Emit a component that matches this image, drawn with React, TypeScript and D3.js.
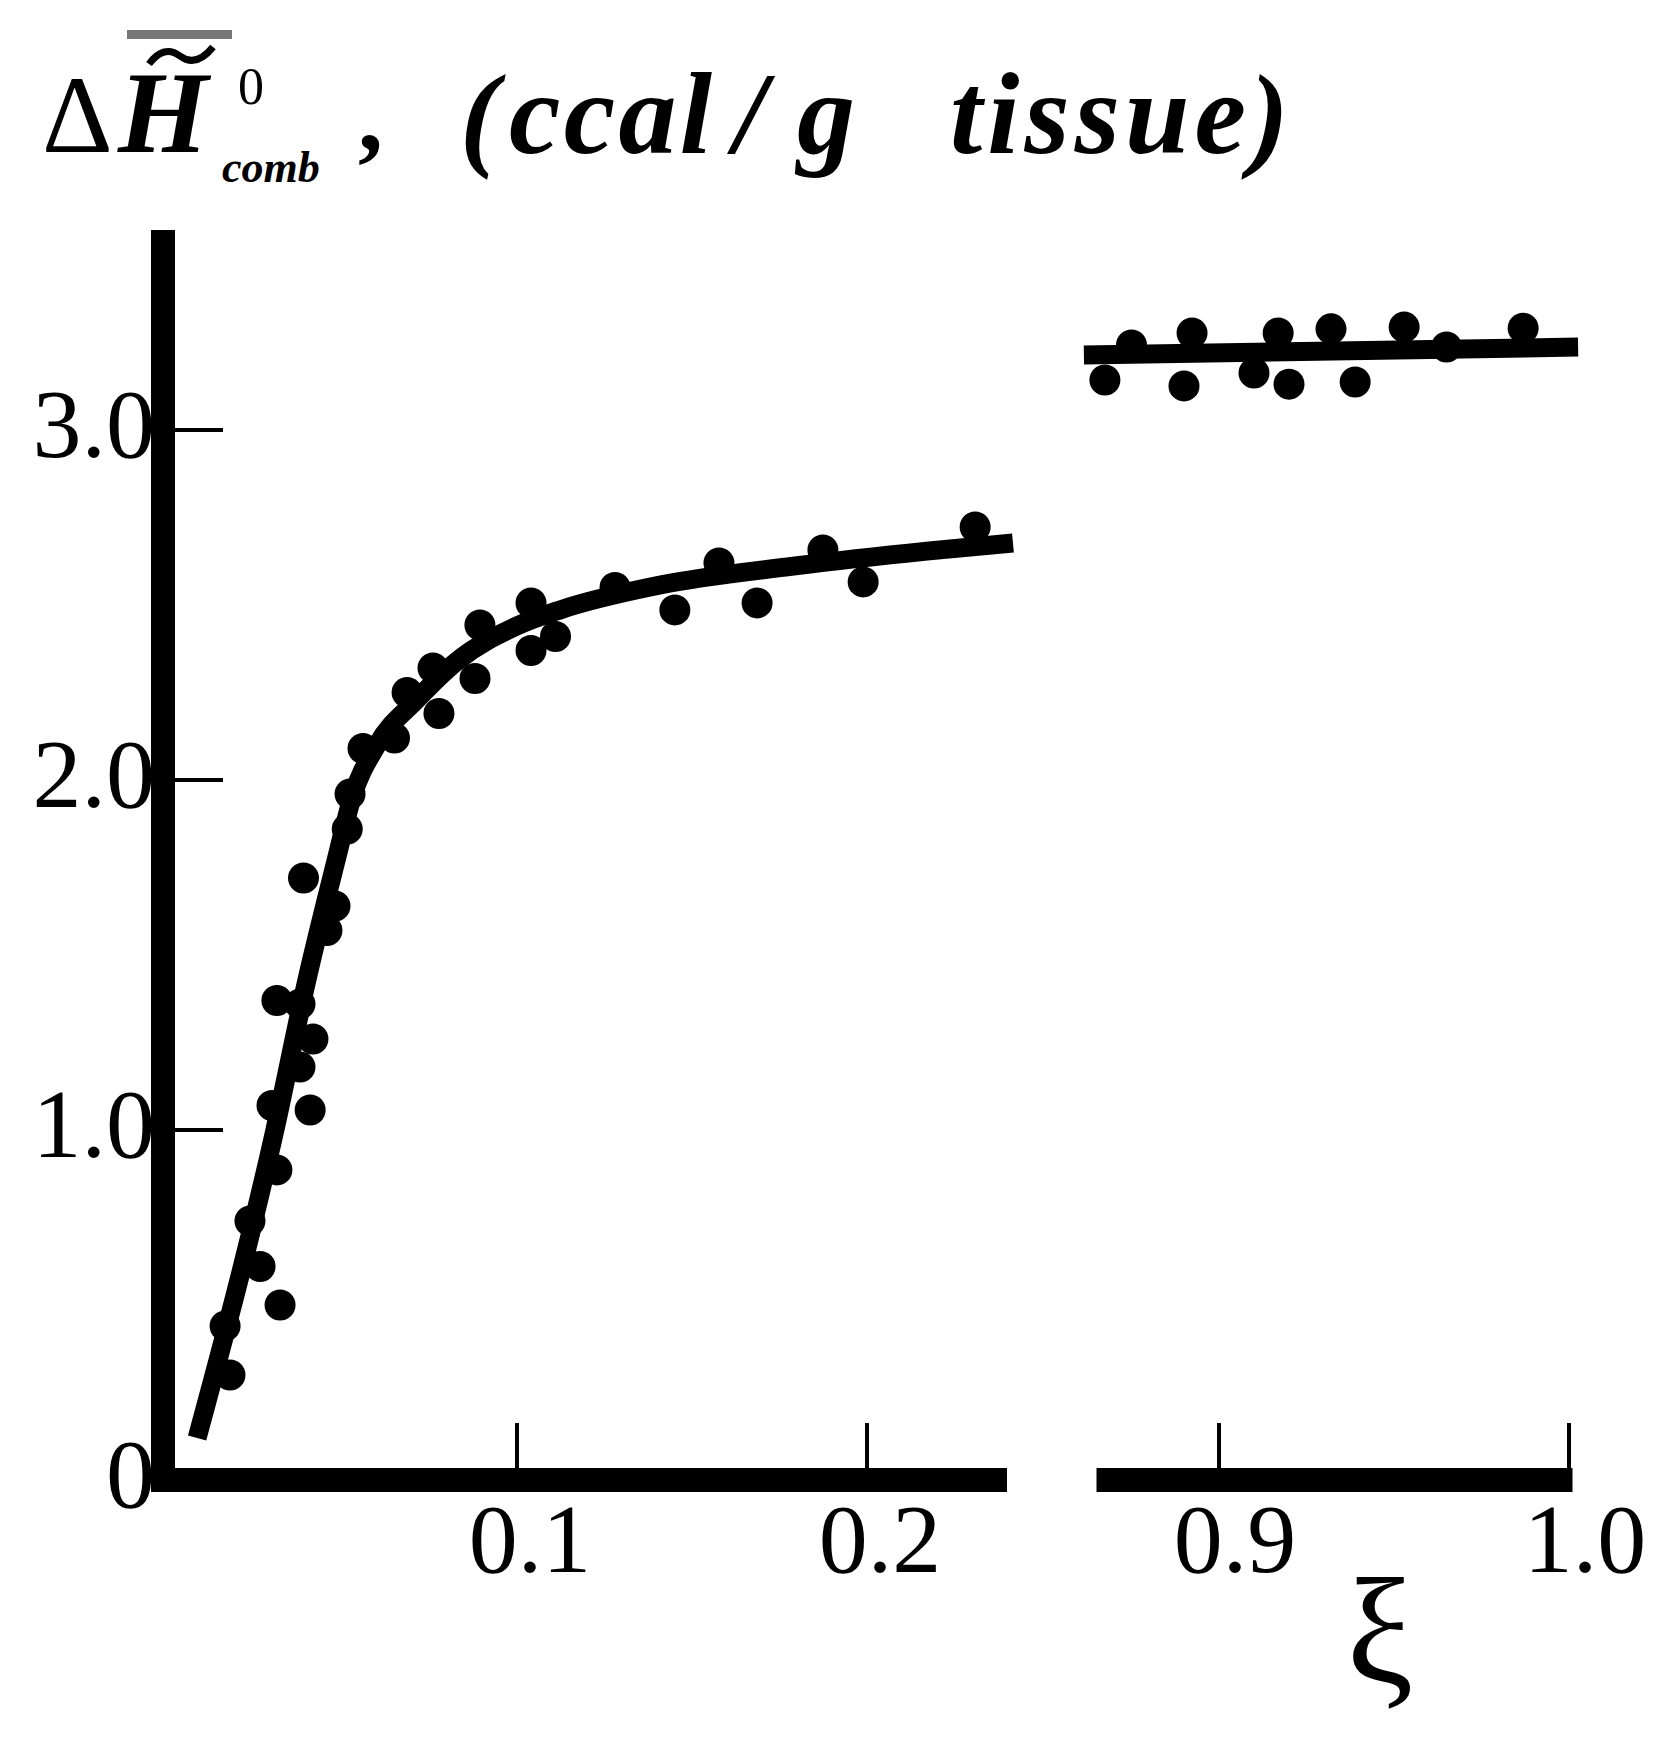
import React from 'react';
import * as d3 from 'd3';

// ---- data ----
const yTickValues = [1, 2, 3];
const yTickLabels = ['1.0', '2.0', '3.0'];
const leftXTickValues = [0.1, 0.2];
const leftXTickLabels = ['0.1', '0.2'];
const rightXTickValues = [0.9, 1.0];
const rightXTickLabels = ['0.9', '1.0'];

// fitted curve, low-ξ region
const leftCurveXi = [0.0086, 0.0306, 0.040, 0.0483, 0.0529, 0.060, 0.0714, 0.0829, 0.100, 0.1123, 0.1409, 0.1789, 0.2171, 0.2417];
const leftCurveH = [0.12, 0.99, 1.43, 1.77, 1.95, 2.10, 2.23, 2.34, 2.44, 2.486, 2.557, 2.611, 2.654, 2.677];

// measured points, low-ξ region
const leftDotsXi = [0.018, 0.0166, 0.0237, 0.0266, 0.0323, 0.0314, 0.030, 0.0409, 0.0417, 0.038, 0.0314, 0.038, 0.039, 0.048, 0.0457, 0.0523, 0.0515, 0.056, 0.065, 0.0686, 0.0777, 0.076, 0.088, 0.0894, 0.104, 0.104, 0.111, 0.128, 0.1451, 0.1577, 0.1686, 0.1874, 0.1989, 0.2309];
const leftDotsH = [0.30, 0.44, 0.74, 0.61, 0.50, 0.886, 1.07, 1.057, 1.26, 1.18, 1.37, 1.36, 1.72, 1.64, 1.57, 1.96, 1.86, 2.09, 2.12, 2.25, 2.19, 2.32, 2.29, 2.443, 2.506, 2.37, 2.41, 2.55, 2.486, 2.62, 2.506, 2.657, 2.566, 2.723];

// high-ξ region
const rightLineXi = [0.8614, 1.0026];
const rightLineH = [3.214, 3.237];
const rightDotsXi = [0.8674, 0.875, 0.8923, 0.890, 0.910, 0.9169, 0.920, 0.932, 0.9389, 0.9529, 0.965, 0.9869];
const rightDotsH = [3.143, 3.243, 3.277, 3.126, 3.163, 3.277, 3.131, 3.289, 3.137, 3.294, 3.237, 3.291];

const SERIF = '"Liberation Serif", "Times New Roman", serif';

export default function App() {
  const y = d3.scaleLinear().domain([0, 3.5714]).range([1480, 230]);
  const xL = d3.scaleLinear().domain([0, 0.24]).range([167, 1007]);
  const xR = d3.scaleLinear().domain([0.865, 1.001]).range([1096.5, 1572.5]);

  const leftCurve = d3
    .line<number>()
    .x((d, i) => xL(leftCurveXi[i]))
    .y((d) => y(d))
    .curve(d3.curveMonotoneX)(leftCurveH) as string;

  const rightLine = d3
    .line<number>()
    .x((d, i) => xR(rightLineXi[i]))
    .y((d) => y(d))(rightLineH) as string;

  const axisY = y(0);
  const yAxisX = xL(0) - 4;
  const axisW = 24;

  return (
    <svg
      width={1675}
      height={1742}
      viewBox="0 0 1675 1742"
      style={{ position: 'absolute', left: 0, top: 0, background: '#fff' }}
    >
      <rect x={0} y={0} width={1675} height={1742} fill="#fff" />

      {/* Title */}
      <g fill="#000" fontFamily={SERIF}>
        <text x={42} y={152} fontSize={110}>Δ</text>
        <text x={118} y={152} fontSize={116} fontWeight="bold" fontStyle="italic">H</text>
        <rect x={127} y={30} width={105} height={9} fill="#777" />
        <path d="M149,64 Q164,44 180,56 T213,47" fill="none" stroke="#000" strokeWidth={7} />
        <text x={238} y={104} fontSize={52}>0</text>
        <text x={222} y={182} fontSize={44} fontWeight="bold" fontStyle="italic">comb</text>
        <text x={358} y={150} fontSize={100} fontWeight="bold">,</text>
        <text x={460} y={155} fontSize={116} fontWeight="bold" fontStyle="italic">(</text>
        <text x={509} y={153} fontSize={116} fontWeight="bold" fontStyle="italic" textLength={203} lengthAdjust="spacing">ccal</text>
        <text x={734} y={153} fontSize={116} fontWeight="bold" fontStyle="italic">/</text>
        <text x={797} y={153} fontSize={116} fontWeight="bold" fontStyle="italic">g</text>
        <text x={950} y={153} fontSize={116} fontWeight="bold" fontStyle="italic" textLength={296} lengthAdjust="spacing">tissue</text>
        <text x={1250} y={155} fontSize={116} fontWeight="bold" fontStyle="italic">)</text>
      </g>

      {/* Y tick labels */}
      <g fontFamily={SERIF} fontSize={98} fill="#000" textAnchor="end">
        <text x={155} y={axisY + 27}>0</text>
        {yTickValues.map((v, i) => (
          <text key={v} x={155} y={y(v) + 27}>{yTickLabels[i]}</text>
        ))}
      </g>

      {/* X tick labels */}
      <g fontFamily={SERIF} fontSize={98} fill="#000" textAnchor="middle">
        {leftXTickValues.map((v, i) => (
          <text key={v} x={xL(v) + 13} y={1572}>{leftXTickLabels[i]}</text>
        ))}
        {rightXTickValues.map((v, i) => (
          <text key={v} x={xR(v) + 16} y={1572}>{rightXTickLabels[i]}</text>
        ))}
      </g>

      {/* x axis title */}
      <text x={1380} y={1682} fontFamily={SERIF} fontSize={150} textAnchor="middle" fill="#000">ξ</text>

      {/* axes */}
      <g stroke="#000" fill="none">
        <line x1={yAxisX} y1={230} x2={yAxisX} y2={axisY + axisW / 2} strokeWidth={axisW} />
        <line x1={yAxisX - axisW / 2} y1={axisY} x2={xL(0.24)} y2={axisY} strokeWidth={axisW} />
        <line x1={xR(0.865)} y1={axisY} x2={xR(1.001)} y2={axisY} strokeWidth={axisW} />
        {yTickValues.map((v) => (
          <line key={v} x1={yAxisX + axisW / 2} y1={y(v)} x2={yAxisX + axisW / 2 + 48} y2={y(v)} strokeWidth={4} />
        ))}
        {leftXTickValues.map((v) => (
          <line key={v} x1={xL(v)} y1={axisY - axisW / 2} x2={xL(v)} y2={axisY - 57} strokeWidth={4} />
        ))}
        {rightXTickValues.map((v) => (
          <line key={v} x1={xR(v)} y1={axisY - axisW / 2} x2={xR(v)} y2={axisY - 57} strokeWidth={4} />
        ))}
      </g>

      {/* fitted lines */}
      <path d={leftCurve} fill="none" stroke="#000" strokeWidth={19} />
      <path d={rightLine} fill="none" stroke="#000" strokeWidth={19} />

      {/* data points */}
      <g fill="#000">
        {leftDotsH.map((v, i) => (
          <circle key={'l' + i} cx={xL(leftDotsXi[i])} cy={y(v)} r={15.5} />
        ))}
        {rightDotsH.map((v, i) => (
          <circle key={'r' + i} cx={xR(rightDotsXi[i])} cy={y(v)} r={15.5} />
        ))}
      </g>
    </svg>
  );
}
